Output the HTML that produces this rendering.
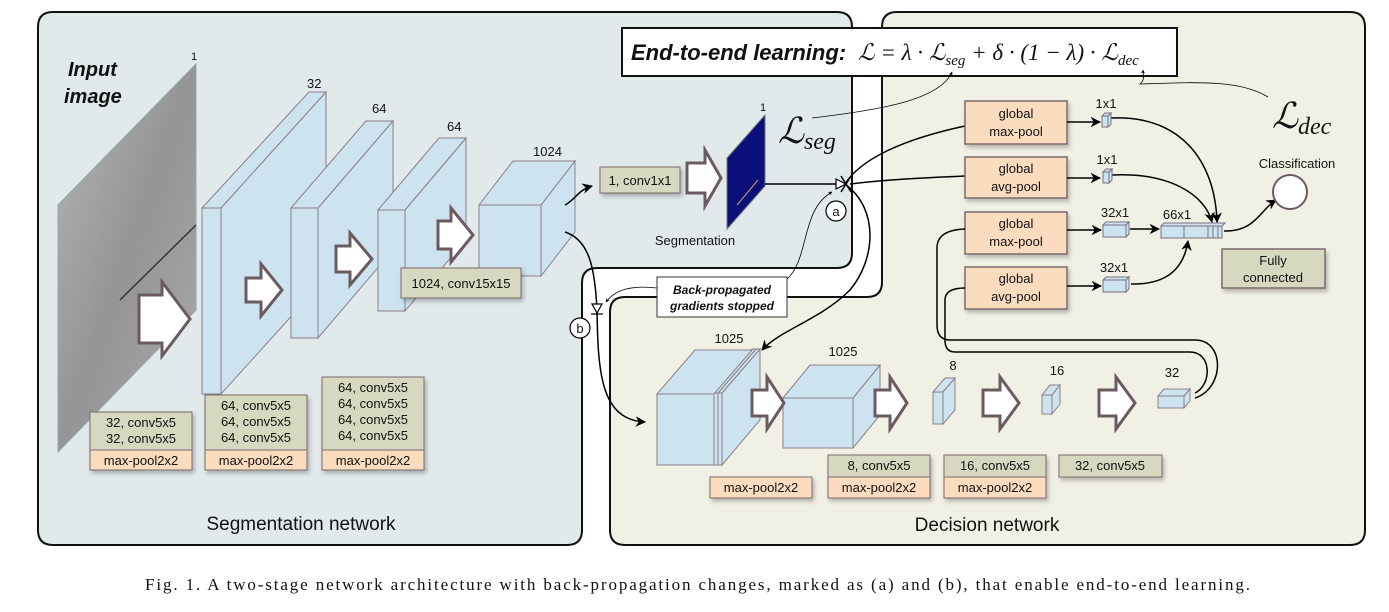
<!DOCTYPE html>
<html><head><meta charset="utf-8"><style>
body{margin:0;background:#fff;width:1389px;height:612px;overflow:hidden}
svg{display:block}
text{font-family:"Liberation Sans",sans-serif;fill:#111}
.s{font-size:13px}
.m{font-family:"Liberation Serif",serif;font-style:italic}
</style></head><body>
<svg width="1389" height="612" viewBox="0 0 1389 612" xmlns="http://www.w3.org/2000/svg">
<defs>
<marker id="ah" viewBox="0 0 10 10" refX="9" refY="5" markerWidth="7" markerHeight="7" orient="auto"><path d="M0,0 L10,5 L0,10 L3,5 Z" fill="#000"/></marker>
<marker id="ahs" viewBox="0 0 10 10" refX="9" refY="5" markerWidth="5" markerHeight="5" orient="auto"><path d="M0,0 L10,5 L0,10 L3,5 Z" fill="#000"/></marker>
<filter id="sh" x="-10%" y="-10%" width="130%" height="140%"><feDropShadow dx="2" dy="3" stdDeviation="2" flood-color="#000" flood-opacity="0.25"/></filter>
<linearGradient id="img" x1="0" y1="0" x2="1" y2="1"><stop offset="0" stop-color="#b5b5b5"/><stop offset="0.5" stop-color="#959595"/><stop offset="1" stop-color="#aaaaaa"/></linearGradient>
</defs>
<!-- panels -->
<path d="M53,12 H837 Q852,12 852,27 V253 Q852,268 837,268 H597 Q582,268 582,283 V530 Q582,545 567,545 H53 Q38,545 38,530 V27 Q38,12 53,12 Z" fill="#e2e9eb" stroke="#111" stroke-width="2"/>
<path d="M897,12 H1350 Q1365,12 1365,27 V530 Q1365,545 1350,545 H625 Q610,545 610,530 V312 Q610,297 625,297 H867 Q882,297 882,282 V27 Q882,12 897,12 Z" fill="#f1f0e5" stroke="#111" stroke-width="2"/>
<!-- equation -->
<rect x="622" y="28" width="555" height="48" fill="#fff" stroke="#111" stroke-width="2"/>
<text x="631" y="60" style="font-size:22px;font-weight:bold;font-style:italic">End-to-end learning:</text>
<text x="858" y="60" class="m" style="font-size:23px">ℒ = λ · ℒ<tspan font-size="15" dy="5">seg</tspan><tspan dy="-5"> + δ · (1 − λ) · ℒ</tspan><tspan font-size="15" dy="5">dec</tspan></text>
<!-- input image -->
<text x="68" y="76" style="font-size:20px;font-weight:bold;font-style:italic">Input</text>
<text x="64" y="103" style="font-size:20px;font-weight:bold;font-style:italic">image</text>
<text x="191" y="60" class="s" style="font-size:11px">1</text>
<polygon points="58,205 196,64 196,310 58,452" fill="url(#img)" stroke="#8aa" stroke-width="1"/>
<line x1="120" y1="300" x2="196" y2="225" stroke="#333" stroke-width="1.5"/>
<g stroke="#8a7f88" stroke-width="1" fill="#cde3f0">
<polygon points="221,208 326,92 326,278 221,394"/>
<polygon points="202,208 309,92 326,92 221,208"/>
<rect x="202" y="208" width="19" height="186"/>
<polygon points="318,208 393,121 393,250 318,338"/>
<polygon points="291,208 366,121 393,121 318,208"/>
<rect x="291" y="208" width="27" height="130"/>
<polygon points="405,210 466,138 466,240 405,311"/>
<polygon points="378,210 439,138 466,138 405,210"/>
<rect x="378" y="210" width="27" height="101"/>
<polygon points="541,205 575,161 575,232 541,276"/>
<polygon points="479,205 513,161 575,161 541,205"/>
<rect x="479" y="205" width="62" height="71"/>
</g>
<text x="307" y="88" class="s">32</text>
<text x="372" y="113" class="s">64</text>
<text x="447" y="131" class="s">64</text>
<text x="533" y="156" class="s">1024</text>
<!-- bottom cubes -->
<g stroke="#8a7f88" stroke-width="1" fill="#cde3f0">
<polygon points="722,393 760,349 760,420 722,465"/>
<polygon points="718,393 756,349 760,349 722,393"/>
<rect x="718" y="393" width="4" height="72"/>
<polygon points="714,393 752,349 756,349 718,393"/>
<rect x="714" y="393" width="4" height="72"/>
<polygon points="657,394 695,350 752,350 714,394"/>
<rect x="657" y="394" width="57" height="71"/>
<polygon points="853,398 880,365 880,415 853,448"/>
<polygon points="783,398 810,365 880,365 853,398"/>
<rect x="783" y="398" width="70" height="50"/>
<polygon points="933,392 945,378 955,378 943,392"/><polygon points="943,392 955,378 955,410 943,424"/><rect x="933" y="392" width="10" height="32"/>
<polygon points="1042,395 1050,385 1060,385 1052,395"/><polygon points="1052,395 1060,385 1060,404 1052,414"/><rect x="1042" y="395" width="10" height="19"/>
<polygon points="1158,396 1164,389 1190,389 1184,396"/><polygon points="1184,396 1190,389 1190,401 1184,408"/><rect x="1158" y="396" width="26" height="12"/>
</g>
<!-- arrows -->
<g fill="#fff" stroke="#6b5b61" stroke-width="3" stroke-linejoin="miter">
<polygon points="139,295 162,295 162,282 190,319 162,356 162,343 139,343"/>
<polygon points="246,278 261,278 261,264 282,290 261,316 261,302 246,302"/>
<polygon points="336,246 350,246 350,233 372,259 350,285 350,272 336,272"/>
<polygon points="438,221 451,221 451,208 473,235 451,262 451,249 438,249"/>
<polygon points="687,163 705,163 705,150 721,178 705,206 705,193 687,193"/>
<polygon points="752,390 767,390 767,377 784,403 767,429 767,416 752,416"/>
<polygon points="875,390 890,390 890,377 907,403 890,429 890,416 875,416"/>
<polygon points="983,390 1000,390 1000,377 1019,403 1000,429 1000,416 983,416"/>
<polygon points="1099,390 1116,390 1116,377 1135,403 1116,429 1116,416 1099,416"/>
</g>
<!-- seg label boxes -->
<g filter="url(#sh)" stroke="#7a6a6e" stroke-width="1">
<rect x="90" y="412" width="102" height="38" fill="#d6d9bf"/><rect x="90" y="450" width="102" height="20" fill="#fbdcbe"/>
<rect x="205" y="395" width="102" height="55" fill="#d6d9bf"/><rect x="205" y="450" width="102" height="20" fill="#fbdcbe"/>
<rect x="322" y="377" width="102" height="73" fill="#d6d9bf"/><rect x="322" y="450" width="102" height="20" fill="#fbdcbe"/>
<rect x="401" y="268" width="120" height="30" fill="#d6d9bf"/>
<rect x="600" y="167" width="80" height="26" fill="#d6d9bf"/>
</g>
<g text-anchor="middle">
<text x="141" y="427" class="s">32, conv5x5</text><text x="141" y="443" class="s">32, conv5x5</text><text x="141" y="465" class="s">max-pool2x2</text>
<text x="256" y="410" class="s">64, conv5x5</text><text x="256" y="426" class="s">64, conv5x5</text><text x="256" y="442" class="s">64, conv5x5</text><text x="256" y="465" class="s">max-pool2x2</text>
<text x="373" y="392" class="s">64, conv5x5</text><text x="373" y="408" class="s">64, conv5x5</text><text x="373" y="424" class="s">64, conv5x5</text><text x="373" y="440" class="s">64, conv5x5</text><text x="373" y="465" class="s">max-pool2x2</text>
<text x="461" y="288" class="s">1024, conv15x15</text>
<text x="640" y="185" class="s">1, conv1x1</text>
</g>
<text x="301" y="530" text-anchor="middle" style="font-size:19px">Segmentation network</text>
<!-- segmentation map -->
<polygon points="727,158 765,115 765,186 727,229" fill="#0a0f7a" stroke="#777" stroke-width="1"/>
<line x1="737" y1="205" x2="758" y2="180" stroke="#c96" stroke-width="1"/>
<text x="760" y="111" class="s" style="font-size:11px">1</text>
<text x="695" y="245" text-anchor="middle" class="s">Segmentation</text>
<text x="778" y="143" class="m" style="font-size:36px">ℒ<tspan font-size="24" dy="6">seg</tspan></text>
<text x="1272" y="128" class="m" style="font-size:36px">ℒ<tspan font-size="24" dy="6">dec</tspan></text>
<path d="M812,118 C880,110 940,100 952,72" fill="none" stroke="#000" stroke-width="0.8" marker-end="url(#ahs)"/>
<path d="M1268,97 C1240,80 1200,82 1140,84 C1145,80 1143,76 1143,70" fill="none" stroke="#000" stroke-width="0.8" marker-end="url(#ahs)"/>
<!-- connectors seg -->
<path d="M565,205 C575,200 578,190 592,186" fill="none" stroke="#000" stroke-width="1.5" marker-end="url(#ah)"/>
<path d="M765,184 H838" fill="none" stroke="#000" stroke-width="1.5"/>
<polygon points="836,179 846,184 836,189" fill="#fff" stroke="#000" stroke-width="1.2"/>
<line x1="841" y1="176" x2="851" y2="192" stroke="#000" stroke-width="1.5"/>
<line x1="851" y1="176" x2="841" y2="192" stroke="#000" stroke-width="1.5"/>
<path d="M965,176 C920,178 880,180 850,184" fill="none" stroke="#000" stroke-width="1.5"/>
<path d="M965,126 C900,140 860,160 845,184 C880,210 875,260 850,290 C820,320 780,330 762,350" fill="none" stroke="#000" stroke-width="1.5" marker-end="url(#ah)"/>
<circle cx="836" cy="211" r="10" fill="#fff" stroke="#000" stroke-width="1.2"/>
<text x="836" y="216" text-anchor="middle" class="s">a</text>
<path d="M786,280 C810,260 800,210 832,192" fill="none" stroke="#000" stroke-width="0.8" marker-end="url(#ahs)"/>
<path d="M565,232 C590,240 595,270 597,310 C598,370 600,420 645,422" fill="none" stroke="#000" stroke-width="1.5" marker-end="url(#ah)"/>
<polygon points="592,304 602,304 597,313" fill="#fff" stroke="#000" stroke-width="1.2"/>
<line x1="591" y1="314" x2="603" y2="314" stroke="#000" stroke-width="1.2"/>
<path d="M657,288 C630,285 615,290 606,302" fill="none" stroke="#000" stroke-width="0.8" marker-end="url(#ahs)"/>
<circle cx="580" cy="328" r="10" fill="#fff" stroke="#000" stroke-width="1.2"/>
<text x="580" y="333" text-anchor="middle" class="s">b</text>
<rect x="657" y="277" width="130" height="40" fill="#fff" stroke="#333" stroke-width="1"/>
<text x="722" y="294" text-anchor="middle" style="font-size:12px;font-weight:bold;font-style:italic">Back-propagated</text>
<text x="722" y="310" text-anchor="middle" style="font-size:12px;font-weight:bold;font-style:italic">gradients stopped</text>
<!-- decision: global boxes -->
<g filter="url(#sh)" stroke="#7a6a6e" stroke-width="1.5" fill="#fbdcbe">
<rect x="965" y="101" width="102" height="43"/>
<rect x="965" y="157" width="102" height="41"/>
<rect x="965" y="212" width="102" height="42"/>
<rect x="965" y="267" width="102" height="42"/>
</g>
<g text-anchor="middle">
<text x="1016" y="118" class="s">global</text><text x="1016" y="136" class="s">max-pool</text>
<text x="1016" y="173" class="s">global</text><text x="1016" y="191" class="s">avg-pool</text>
<text x="1016" y="228" class="s">global</text><text x="1016" y="246" class="s">max-pool</text>
<text x="1016" y="283" class="s">global</text><text x="1016" y="301" class="s">avg-pool</text>
</g>
<g stroke="#000" stroke-width="1.5" fill="none" marker-end="url(#ah)">
<path d="M1067,122 H1100"/><path d="M1067,178 H1100"/><path d="M1067,230 H1101"/><path d="M1067,286 H1101"/>
<path d="M1130,229 H1159"/>
<path d="M1111,118 C1180,115 1215,160 1217,222"/>
<path d="M1111,175 C1170,172 1205,195 1212,222"/>
<path d="M1131,284 C1175,285 1185,260 1188,241"/>
<path d="M1224,231 C1255,232 1260,210 1276,200"/>
</g>
<g stroke="#7a7080" stroke-width="1" fill="#cde3f0">
<rect x="1102" y="116" width="6" height="11"/><polygon points="1102,116 1105,113 1111,113 1108,116"/><polygon points="1108,116 1111,113 1111,124 1108,127"/>
<rect x="1103" y="172" width="6" height="11"/><polygon points="1103,172 1106,169 1112,169 1109,172"/><polygon points="1109,172 1112,169 1112,180 1109,183"/>
<rect x="1103" y="225" width="23" height="12"/><polygon points="1103,225 1106,222 1129,222 1126,225"/><polygon points="1126,225 1129,222 1129,234 1126,237"/>
<rect x="1103" y="280" width="23" height="12"/><polygon points="1103,280 1106,277 1129,277 1126,280"/><polygon points="1126,280 1129,277 1129,289 1126,292"/>
<rect x="1161" y="226" width="23" height="12"/><rect x="1184" y="226" width="24" height="12"/><rect x="1208" y="226" width="5" height="12"/><rect x="1213" y="226" width="5" height="12"/><rect x="1218" y="226" width="4" height="12"/>
<polygon points="1161,226 1164,223 1225,223 1222,226"/>
</g>
<text x="1106" y="108" text-anchor="middle" class="s">1x1</text>
<text x="1107" y="164" text-anchor="middle" class="s">1x1</text>
<text x="1115" y="217" text-anchor="middle" class="s">32x1</text>
<text x="1114" y="272" text-anchor="middle" class="s">32x1</text>
<text x="1177" y="219" text-anchor="middle" class="s">66x1</text>
<text x="1297" y="168" text-anchor="middle" class="s">Classification</text>
<circle cx="1290" cy="192" r="17" fill="#fff" stroke="#6b5b61" stroke-width="2"/>
<rect x="1222" y="249" width="103" height="39" fill="#d6d9bf" stroke="#7a6a6e" stroke-width="1.5" filter="url(#sh)"/>
<text x="1273" y="265" text-anchor="middle" class="s">Fully</text>
<text x="1273" y="282" text-anchor="middle" class="s">connected</text>
<!-- loops -->
<path d="M1195,398 C1225,388 1225,340 1195,340 H950 Q937,340 937,325 V248 Q937,230 965,229" fill="none" stroke="#000" stroke-width="1.5"/>
<path d="M1195,393 C1212,385 1212,352 1190,352 H955 Q945,352 945,340 V300 Q945,288 965,288" fill="none" stroke="#000" stroke-width="1.5"/>
<text x="729" y="343" text-anchor="middle" class="s">1025</text>
<text x="843" y="356" text-anchor="middle" class="s">1025</text>
<text x="953" y="370" text-anchor="middle" class="s">8</text>
<text x="1057" y="375" text-anchor="middle" class="s">16</text>
<text x="1172" y="377" text-anchor="middle" class="s">32</text>
<g filter="url(#sh)" stroke="#7a6a6e" stroke-width="1">
<rect x="710" y="477" width="102" height="21" fill="#fbdcbe"/>
<rect x="828" y="455" width="102" height="22" fill="#d6d9bf"/><rect x="828" y="477" width="102" height="21" fill="#fbdcbe"/>
<rect x="944" y="455" width="102" height="22" fill="#d6d9bf"/><rect x="944" y="477" width="102" height="21" fill="#fbdcbe"/>
<rect x="1059" y="455" width="103" height="22" fill="#d6d9bf"/>
</g>
<g text-anchor="middle">
<text x="761" y="492" class="s">max-pool2x2</text>
<text x="879" y="470" class="s">8, conv5x5</text><text x="879" y="492" class="s">max-pool2x2</text>
<text x="995" y="470" class="s">16, conv5x5</text><text x="995" y="492" class="s">max-pool2x2</text>
<text x="1110" y="470" class="s">32, conv5x5</text>
</g>
<text x="987" y="531" text-anchor="middle" style="font-size:19px">Decision network</text>
<text x="145" y="590" textLength="1105" lengthAdjust="spacing" style="font-family:'Liberation Serif',serif;font-size:17px">Fig. 1.  A two-stage network architecture with back-propagation changes, marked as (a) and (b), that enable end-to-end learning.</text>
</svg>
</body></html>
